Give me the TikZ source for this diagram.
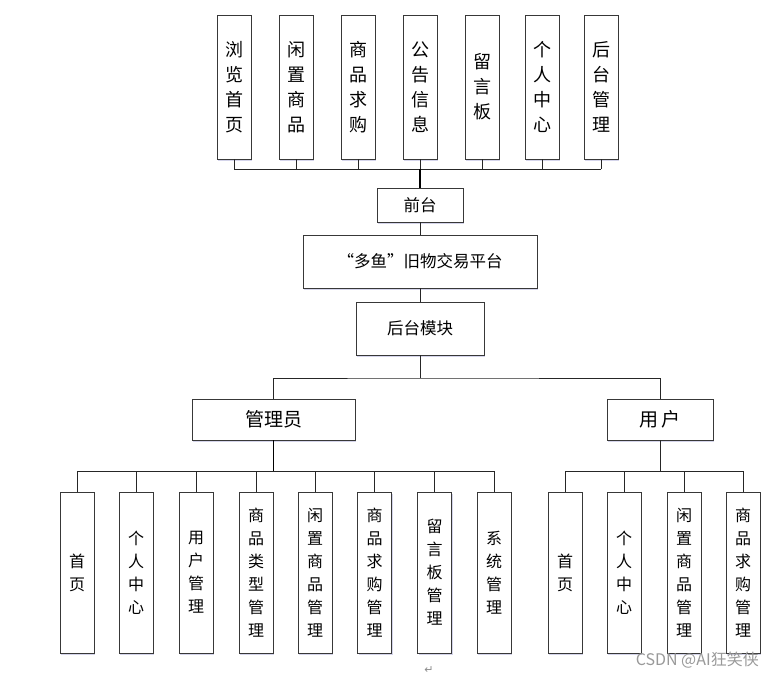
\documentclass[tikz,border=0pt]{standalone}
\usepackage{fontspec}
\setmainfont{Noto Sans CJK SC}
\newfontfamily\dvs{DejaVu Sans}
\usetikzlibrary{shadows}
\begin{document}
\begin{tikzpicture}[x=1pt,y=-1pt,
  box/.style={draw=black!78, line width=0.9pt, fill=white, inner sep=0pt, align=center,
    drop shadow={shadow xshift=1.2pt, shadow yshift=-1.5pt, opacity=0.25, fill=blue!35!gray}},
  topbox/.style={box, minimum width=34pt, minimum height=144pt, font=\fontsize{18}{25}\selectfont},
  subbox/.style={box, minimum width=34pt, minimum height=161pt, font=\fontsize{16}{23}\selectfont},
  midbox/.style={box, font=\fontsize{16.5}{20}\selectfont},
  rolebox/.style={box, minimum height=41pt, font=\fontsize{19}{22}\selectfont},
  link/.style={draw=black!85, line width=0.8pt},
  trunk/.style={draw=black, line width=1.6pt}
]
\useasboundingbox (0,0) rectangle (774,678);
% top row
\node[topbox] (t1) at (234,87) {浏\\览\\首\\页};
\node[topbox] (t2) at (296,87) {闲\\置\\商\\品};
\node[topbox] (t3) at (358,87) {商\\品\\求\\购};
\node[topbox] (t4) at (420,87) {公\\告\\信\\息};
\node[topbox] (t5) at (482,87) {留\\言\\板};
\node[topbox] (t6) at (542,87) {个\\人\\中\\心};
\node[topbox] (t7) at (601,87) {后\\台\\管\\理};
% middle
\node[midbox, minimum width=86pt, minimum height=34pt] (qt) at (420,205) {前台};
\node[midbox, minimum width=234pt, minimum height=53pt] (pt) at (420,261.5) {“多鱼”旧物交易平台};
\node[midbox, minimum width=128pt, minimum height=53pt] (ht) at (420,328.5) {后台模块};
\node[rolebox, minimum width=163pt] (adm) at (273.5,419.5) {管理员};
\node[rolebox, minimum width=106pt] (usr) at (660,419.5) {用\hspace{4pt}户};
% admin children
\node[subbox] (a1) at (77,572.5) {首\\页};
\node[subbox] (a2) at (136,572.5) {个\\人\\中\\心};
\node[subbox] (a3) at (196,572.5) {用\\户\\管\\理};
\node[subbox] (a4) at (256,572.5) {商\\品\\类\\型\\管\\理};
\node[subbox] (a5) at (315,572.5) {闲\\置\\商\\品\\管\\理};
\node[subbox] (a6) at (374.5,572.5) {商\\品\\求\\购\\管\\理};
\node[subbox] (a7) at (434.5,572.5) {留\\言\\板\\管\\理};
\node[subbox] (a8) at (494,572.5) {系\\统\\管\\理};
% user children
\node[subbox] (u1) at (565,572.5) {首\\页};
\node[subbox] (u2) at (624,572.5) {个\\人\\中\\心};
\node[subbox] (u3) at (684,572.5) {闲\\置\\商\\品\\管\\理};
\node[subbox] (u4) at (743,572.5) {商\\品\\求\\购\\管\\理};
% bus coordinates
\coordinate (tb) at (420,169);
\coordinate (mb) at (420,378);
\coordinate (ab) at (273.5,471);
\coordinate (ub) at (660,471);
% top connectors
\foreach \n in {t1,t2,t3,t4,t5,t6,t7} { \draw[link] (\n.south) -- (\n.south |- tb); }
\draw[link] (t1.south |- tb) -- (t7.south |- tb);
\draw[trunk] (tb) -- (qt.north);
\draw[link] (qt.south) -- (pt.north);
\draw[link] (pt.south) -- (ht.north);
% middle bus
\draw[link] (ht.south) -- (mb);
\draw[link] (adm.north) |- (mb) -| (usr.north);
% admin
\draw[trunk] (adm.south) -- (ab);
\foreach \n in {a1,a2,a3,a4,a5,a6,a7,a8} { \draw[link] (\n.north) -- (\n.north |- ab); }
\draw[link] (a1.north |- ab) -- (a8.north |- ab);
% user
\draw[link] (usr.south) -- (ub);
\foreach \n in {u1,u2,u3,u4} { \draw[link] (\n.north) -- (\n.north |- ub); }
\draw[link] (u1.north |- ub) -- (u4.north |- ub);
% marks
\node[text=black!45, font=\dvs\fontsize{11}{11}\selectfont, inner sep=0pt] (ret) at (429,670) {↵};
\node[text=black!40, font=\fontsize{16}{16}\selectfont, inner sep=0pt, anchor=east] (wm) at (759,660) {CSDN @AI狂笑侠};
\end{tikzpicture}
\end{document}
